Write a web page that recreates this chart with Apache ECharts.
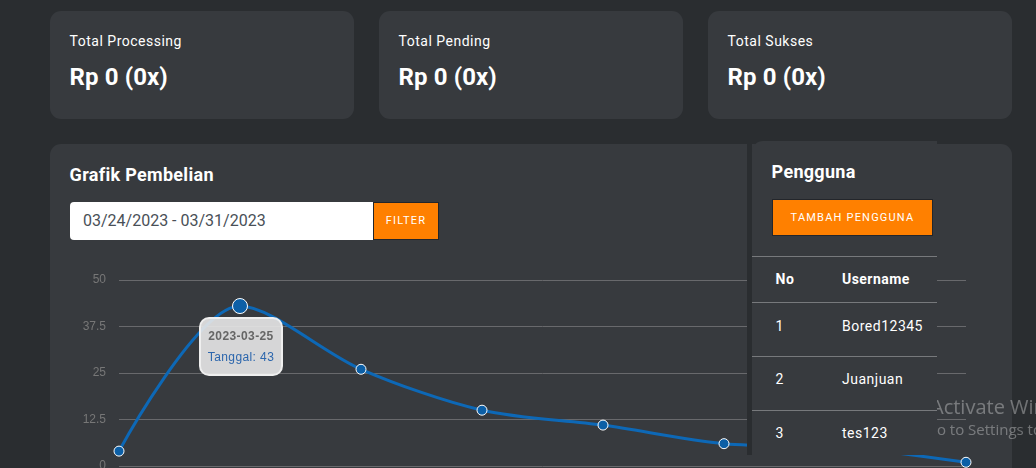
<!DOCTYPE html>
<html><head><meta charset="utf-8">
<script src="https://cdn.jsdelivr.net/npm/echarts@6/dist/echarts.min.js"></script>
<style>
html,body{margin:0;padding:0;width:1036px;height:468px;overflow:hidden;background:#2a2d30;font-family:Roboto,sans-serif;color:#fff}
.a{position:absolute;white-space:nowrap}
.card{background:#373a3e;border-radius:11px}
.lab{font-size:14px;line-height:16px;letter-spacing:.5px}
.val{font-size:24px;line-height:28px;font-weight:700;letter-spacing:.1px}
.ttl{font-size:18px;line-height:22px;font-weight:700;letter-spacing:.3px}
.hr{position:absolute;left:752px;width:185px;height:1px;background:#77797c}
.btn{background:#ff8000;border:1px solid #23262b;box-sizing:border-box;text-align:center;letter-spacing:1.2px;font-size:11px;font-weight:400}
.td{font-size:14px;line-height:16px;letter-spacing:.5px}
.th{font-size:14px;line-height:16px;font-weight:700;letter-spacing:.45px}
</style></head><body>
<div class="a card" style="left:50px;top:11px;width:304px;height:108px"></div>
<div class="a card" style="left:379px;top:11px;width:304px;height:108px"></div>
<div class="a card" style="left:708px;top:11px;width:304px;height:108px"></div>
<div class="a lab" style="left:69.6px;top:33px">Total Processing</div>
<div class="a lab" style="left:398.6px;top:33px">Total Pending</div>
<div class="a lab" style="left:727.6px;top:33px">Total Sukses</div>
<div class="a val" style="left:69.6px;top:63px">Rp 0 (0x)</div>
<div class="a val" style="left:398.6px;top:63px">Rp 0 (0x)</div>
<div class="a val" style="left:727.6px;top:63px">Rp 0 (0x)</div>
<div class="a card" style="left:50px;top:144px;width:962px;height:340px"></div>
<div class="a ttl" style="left:69.6px;top:164px">Grafik Pembelian</div>
<div class="a" style="left:70px;top:202px;width:303px;height:38px;background:#fff;border-radius:4px 0 0 4px;color:#495057;font-size:16px;line-height:38px;text-indent:13px">03/24/2023 - 03/31/2023</div>
<div class="a btn" style="left:373px;top:202px;width:66px;height:38px;line-height:36px">FILTER</div>
<div id="chart" class="a" style="left:0;top:0;width:1036px;height:468px"></div>
<div class="a" style="left:931px;top:395px;font-family:'Open Sans',sans-serif;font-size:20px;line-height:24px;color:rgba(255,255,255,.33);z-index:5">Activate Windows</div>
<div class="a" style="left:926px;top:420px;font-family:'Open Sans',sans-serif;font-size:15px;line-height:18px;color:rgba(255,255,255,.33);z-index:5">Go to Settings to activate Windows.</div>
<div class="a" style="left:747px;top:144px;width:5px;height:311px;background:#2a2d30;z-index:6"></div>
<div class="a" style="left:752px;top:141px;width:185px;height:314px;background:#373a3e;border-radius:11px 0 0 0;z-index:6"></div>
<div style="position:absolute;left:0;top:0;z-index:7">
<div class="a ttl" style="left:771.6px;top:161px">Pengguna</div>
<div class="a btn" style="left:772px;top:199px;width:161px;height:37px;line-height:35px">TAMBAH PENGGUNA</div>
<div class="hr" style="top:256px"></div><div class="hr" style="top:302px"></div><div class="hr" style="top:356px"></div><div class="hr" style="top:410px"></div>
<div class="a th" style="left:775.6px;top:271px">No</div><div class="a th" style="left:842px;top:271px">Username</div>
<div class="a td" style="left:775.6px;top:318px">1</div><div class="a td" style="left:842px;top:318px">Bored12345</div>
<div class="a td" style="left:775.6px;top:371px">2</div><div class="a td" style="left:842px;top:371px">Juanjuan</div>
<div class="a td" style="left:775.6px;top:425px">3</div><div class="a td" style="left:842px;top:425px">tes123</div>
</div>
<script>
const tanggal=['2023-03-24','2023-03-25','2023-03-26','2023-03-27','2023-03-28','2023-03-29','2023-03-30','2023-03-31'];
const jumlah=[4,43,26,15,11,6,5,1];
const seriesName='Tanggal';
const yTicks=[0,12.5,25,37.5,50];
const chart=echarts.init(document.getElementById('chart'),null,{renderer:'canvas'});
chart.setOption({
  animation:false,
  grid:{left:119,right:70,top:280,height:186,outerBoundsMode:'none'},
  xAxis:{type:'category',data:tanggal,boundaryGap:false,axisLine:{show:false},axisTick:{show:false},axisLabel:{color:'#777',fontSize:12}},
  yAxis:{type:'value',min:0,max:50,interval:12.5,
    axisLine:{show:false},axisTick:{show:false},
    axisLabel:{color:'#777',fontSize:12,fontFamily:'Liberation Sans',margin:13,padding:[2,0,0,0]},
    splitLine:{lineStyle:{color:'#68696c',width:1}}},
  tooltip:{trigger:'item',showContent:true,alwaysShowContent:true,transitionDuration:0,
    padding:0,borderWidth:0,backgroundColor:'transparent',extraCssText:'box-shadow:none;',
    position:function(){return [199,317];},
    formatter:function(p){
      return '<div style="box-sizing:border-box;width:84px;height:59px;background:rgba(232,232,232,.9);border:2px solid rgba(240,240,240,.95);border-radius:10px;font-family:Liberation Sans,sans-serif;font-size:12px;letter-spacing:.4px;text-align:center;line-height:21px;padding-top:7px">'
      +'<div style="color:#666;font-weight:700">'+p.name+'</div><div style="color:#2c66ad">'+p.seriesName+': '+p.value+'</div></div>';
    }},
  series:[{name:seriesName,type:'line',data:jumlah,smooth:0.3,symbol:'circle',symbolSize:10,showSymbol:true,
    lineStyle:{color:'#0c5fa6',width:3},
    itemStyle:{color:'#0c5fa6',borderColor:'#fff',borderWidth:1},
    emphasis:{scale:1.5,itemStyle:{color:'#0c5fa6',borderColor:'#fff',borderWidth:1},lineStyle:{width:3}}}]
});
chart.dispatchAction({type:'highlight',seriesIndex:0,dataIndex:1});
chart.dispatchAction({type:'showTip',seriesIndex:0,dataIndex:1});
</script>
</body></html>
